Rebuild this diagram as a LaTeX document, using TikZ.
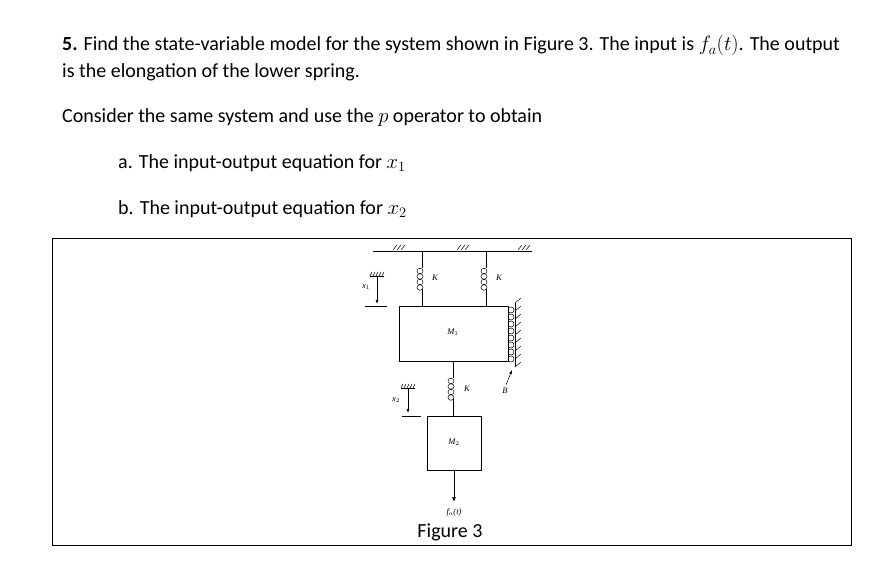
\documentclass[tikz,border=0pt]{standalone}
\usepackage{fontspec}
\setmainfont{Carlito}
\newfontfamily\figfont{Liberation Serif}
\usetikzlibrary{arrows.meta}
\begin{document}
\begin{tikzpicture}[x=1pt,y=-1pt,
  txt/.style={anchor=base west,inner sep=0,font=\fontsize{20}{24}\selectfont},
  lbl/.style={inner sep=0,font=\fontsize{8.5}{9}\figfont\itshape},
  ln/.style={line width=0.6pt},
  hatch/.style={line width=0.5pt}]
\useasboundingbox (0,0) rectangle (881,575);
\node[txt] (t1) at (62,51) {\textbf{5.} Find the state-variable model for the system shown in Figure 3. The input is $f_a(t)$. The output};
\node[txt] (t2) at (62,78) {is the elongation of the lower spring.};
\node[txt] (t3) at (62,123) {Consider the same system and use the $p$ operator to obtain};
\node[txt] (t4) at (118,168) {a. The input-output equation for $x_1$};
\node[txt] (t5) at (118,214) {b. The input-output equation for $x_2$};
\draw[line width=0.8pt] (52,238) rectangle (851,545);
% ceiling
\coordinate (cl) at (373,251); \coordinate (cr) at (532,251);
\draw[ln] (cl) -- (cr);
\foreach \x in {393,457,518} \foreach \d in {0,4,8} \draw[hatch] (\x+\d,250) -- (\x+\d+4,245);
% masses
\node[draw,ln,minimum width=109pt,minimum height=55pt,inner sep=0] (m1) at (453.5,333.5) {};
\node[lbl] (m1l) at (453,332) {M$_1$};
\node[draw,ln,minimum width=54pt,minimum height=54pt,inner sep=0] (m2) at (454,443) {};
\node[lbl] (m2l) at (454,442) {M$_2$};
% springs
\coordinate (s1t) at (422,251); \coordinate (s1b) at (422,306);
\coordinate (s2t) at (486,251); \coordinate (s2b) at (486,306);
\coordinate (s3t) at (453,361); \coordinate (s3b) at (453,416);
\foreach \t/\b in {s1t/s1b,s2t/s2b,s3t/s3b}{
  \draw[ln] (\t) -- ++(0,17);
  \draw[ln] (\b) -- ++(0,-17);
  \foreach \k in {0,1,2,3} \draw[line width=0.5pt] (\t) ++(-2,20+\k*5.5) ellipse (3pt and 2.8pt);
}
\node[lbl] (k1) at (435,278) {K};
\node[lbl] (k2) at (499,278) {K};
\node[lbl] (k3) at (467,389) {K};
% damper rollers & wall
\foreach \y in {310,317,324,331,338,345,352,359} \draw[line width=0.5pt] (511,\y) circle (3pt);
\draw[ln] (515,303) -- (515,367);
\foreach \y in {303,311,...,367} \draw[hatch] (515,\y) -- (521,\y-5);
\node[lbl] (bl) at (505,391) {B};
\coordinate (ba) at (512,370);
\draw[line width=0.5pt,-{Latex[length=4pt]}] (bl.north) ++(1,-3) -- (ba);
% x1 reference
\coordinate (h1) at (377,276);
\draw[ln] (370,276) -- (384,276);
\foreach \d in {0,3,6,9,12} \draw[hatch] (370+\d,276) -- (372+\d,272);
\draw[ln,-{Latex[length=4pt]}] (h1) -- (377,304);
\draw[ln] (365,306) -- (387,306);
\node[lbl] (x1) at (366,287) {x$_1$};
% x2 reference
\coordinate (h2) at (408,388);
\draw[ln] (401,388) -- (415,388);
\foreach \d in {0,3,6,9,12} \draw[hatch] (401+\d,388) -- (403+\d,384);
\draw[ln,-{Latex[length=4pt]}] (h2) -- (408,413);
\draw[ln] (402,416) -- (421,416);
\node[lbl] (x2) at (396,400) {x$_2$};
% force
\coordinate (fa) at (454,502);
\draw[ln,-{Latex[length=5pt]}] (m2.south) -- (fa);
\node[lbl] (fal) at (454,512) {f$_a$(t)};
\node[inner sep=0,font=\fontsize{20}{24}\selectfont] (fig) at (450,532) {Figure 3};
\end{tikzpicture}
\end{document}
